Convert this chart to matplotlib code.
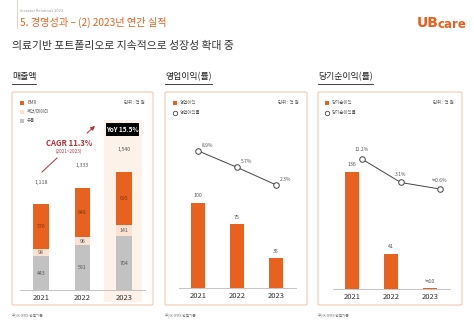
import matplotlib
matplotlib.use('Agg')
import matplotlib.pyplot as plt
from matplotlib.patches import Rectangle, FancyBboxPatch, FancyArrowPatch
from matplotlib.lines import Line2D

plt.rcParams['font.family'] = ['Noto Sans CJK KR', 'DejaVu Sans']

W, H = 474, 322

# ---- data ----
years = ['2021', '2022', '2023']
emr = [576, 648, 695]
pharma = [98, 96, 141]
dist = [443, 591, 704]
sales_totals = ['1,118', '1,333', '1,540']

op_income = [100, 75, 35]
op_margin = [8.9, 5.7, 2.3]
op_margin_labels = ['8.9%', '5.7%', '2.3%']

net_income = [136, 41, 1]
net_labels = ['136', '41', '≒10']
net_margin = [12.2, 3.1, 0.6]
net_margin_labels = ['12.2%', '3.1%', '≒0.6%']

ORANGE = '#E9611F'
PINK = '#FBE2D3'
GRAY = '#C2C2C2'
BOX = '#F3C9B0'
DARKRED = '#B0303A'
TXT = '#444444'

fig = plt.figure(figsize=(W / 100, H / 100), dpi=100)


def fx(x):
    return x / W


def fy(y):
    return 1 - y / H


def add_ax(l, t, r, b):
    ax = fig.add_axes([fx(l), fy(b), (r - l) / W, (b - t) / H])
    ax.patch.set_alpha(0)
    for s in ['top', 'right', 'left']:
        ax.spines[s].set_visible(False)
    ax.spines['bottom'].set_color('#BBBBBB')
    ax.spines['bottom'].set_linewidth(0.6)
    ax.set_yticks([])
    ax.set_xticks(range(len(years)))
    ax.set_xticklabels(years, fontsize=5.5, color='#333333')
    ax.tick_params(axis='x', length=0, pad=3)
    ax.set_xlim(-0.5, 2.5)
    return ax


def ftext(x, y, s, **kw):
    kw.setdefault('va', 'center')
    kw.setdefault('color', TXT)
    return fig.text(fx(x), fy(y), s, **kw)


# ---- header ----
fig.add_artist(Line2D([fx(17), fx(17)], [fy(0), fy(28)], color='#E8C9B8', lw=0.6))
ftext(20, 11, 'Investor Relations 2023', fontsize=2.8, color='#999999')
ftext(20, 22, '5. 경영성과 – (2) 2023년 연간 실적', fontsize=7.3, color=ORANGE)
ftext(12, 46, '의료기반 포트폴리오로 지속적으로 성장성 확대 중', fontsize=7.8, color='#333333')
ftext(417, 23, 'UB', fontsize=10, color=ORANGE, fontweight='bold', family='DejaVu Sans')
ftext(437, 24, 'care', fontsize=8.5, color=ORANGE, fontweight='bold', family='DejaVu Sans')

# ---- section headings (underlined) ----
fig.canvas.draw()
renderer = fig.canvas.get_renderer()
for x0, s in [(12, '매출액'), (165, '영업이익(률)'), (318, '당기순이익(률)')]:
    t = ftext(x0, 77, s, fontsize=6.4, color='#222222')
    bb = t.get_window_extent(renderer)
    fig.add_artist(Line2D([fx(x0), bb.x1 / W], [fy(84), fy(84)], color='#222222', lw=0.6))

# ---- panel boxes ----
for l, r in [(12, 153), (165, 307), (318, 462)]:
    fig.add_artist(FancyBboxPatch((fx(l), fy(305)), (r - l) / W, (305 - 92) / H,
                                  boxstyle='round,pad=0,rounding_size=0.004',
                                  transform=fig.transFigure, fill=False,
                                  ec=BOX, lw=0.8))
    ftext(l, 316, '주) K-IFRS 연결기준', fontsize=2.6, color='#777777')
    ftext(r - 8, 103, '단위 : 억 원', fontsize=3.2, ha='right', color='#555555')

# ---- panel 1: 매출액 ----
# highlight column for 2023
fig.add_artist(Rectangle((fx(104), fy(302)), 38 / W, (302 - 120) / H,
                         transform=fig.transFigure, color='#FDF2EA', lw=0, zorder=0))

for i, (c, s) in enumerate([(ORANGE, 'EMR'), (PINK, '제약/데이터'), (GRAY, '유통')]):
    y = 103 + i * 9
    fig.add_artist(Rectangle((fx(20), fy(y + 2)), 4 / W, 4 / H,
                             transform=fig.transFigure, color=c, lw=0))
    ftext(27, y, s, fontsize=3.2, color='#555555')

ax1 = add_ax(20, 120, 145, 290)
ax1.set_ylim(0, 2219)
bw = 0.38
x = list(range(len(years)))
ax1.bar(x, dist, bw, color=GRAY, zorder=2)
ax1.bar(x, pharma, bw, bottom=dist, color=PINK, zorder=2)
b3 = [d + p for d, p in zip(dist, pharma)]
ax1.bar(x, emr, bw, bottom=b3, color=ORANGE, zorder=2)
for i in x:
    ax1.text(i, dist[i] / 2, str(dist[i]), ha='center', va='center', fontsize=3.8, color='#555555')
    ax1.text(i, dist[i] + pharma[i] / 2, str(pharma[i]), ha='center', va='center', fontsize=3.8, color='#555555')
    ax1.text(i, b3[i] + emr[i] / 2, str(emr[i]), ha='center', va='center', fontsize=3.8, color='#7A3A14')
    top = b3[i] + emr[i]
    ax1.annotate(sales_totals[i], (i, top), xytext=(0, 16), textcoords='offset points',
                 ha='center', va='center', fontsize=3.8, color='#555555')

# YoY box
fig.add_artist(Rectangle((fx(106), fy(136)), 33 / W, 13 / H,
                         transform=fig.transFigure, color='black', lw=0, zorder=3))
ftext(122.5, 129.5, 'YoY 15.5%', fontsize=4.6, color='white', fontweight='bold',
      ha='center', zorder=4)

# CAGR
ftext(69, 143, 'CAGR 11.3%', fontsize=5.6, color=DARKRED, fontweight='bold', ha='center')
ftext(69, 151, '(2021~2023)', fontsize=3.3, color=DARKRED, ha='center')
fig.add_artist(Line2D([fx(42), fx(57)], [fy(172), fy(158)], color=DARKRED, lw=0.7))
fig.add_artist(FancyArrowPatch(
    (fx(85), fy(135)), (fx(97), fy(124)), transform=fig.transFigure,
    arrowstyle='-|>,head_length=2.5,head_width=1.2', color=DARKRED, lw=0.7))

# ---- panel 2: 영업이익 ----
fig.add_artist(Rectangle((fx(173), fy(105)), 4 / W, 4 / H,
                         transform=fig.transFigure, color=ORANGE, lw=0))
ftext(180, 103, '영업이익', fontsize=3.2, color='#555555')
fig.add_artist(Line2D([fx(175)], [fy(113)], marker='o', ms=3.2, mfc='white',
                      mec='#444444', mew=0.6, transform=fig.transFigure))
ftext(180, 113, '영업이익률', fontsize=3.2, color='#555555')

ax2 = add_ax(178.5, 140, 295.5, 288)
ax2.set_ylim(0, 174)
ax2.bar(x, op_income, bw, color=ORANGE, zorder=2)
for i in x:
    ax2.annotate(str(op_income[i]), (i, op_income[i]), xytext=(0, 5), textcoords='offset points',
                 ha='center', va='center', fontsize=3.8, color='#555555')
tw2 = ax2.twinx()
tw2.set_ylim(-17.7, 11.0)
tw2.axis('off')
tw2.plot(x, op_margin, color='#444444', lw=0.7, marker='o', ms=4, mfc='white',
         mec='#444444', mew=0.7, zorder=3)
for i in x:
    tw2.annotate(op_margin_labels[i], (i, op_margin[i]), xytext=(7, 4), textcoords='offset points',
                 ha='center', va='center', fontsize=3.5, color='#555555')

# ---- panel 3: 당기순이익 ----
fig.add_artist(Rectangle((fx(325), fy(105)), 4 / W, 4 / H,
                         transform=fig.transFigure, color=ORANGE, lw=0))
ftext(332, 103, '당기순이익', fontsize=3.2, color='#555555')
fig.add_artist(Line2D([fx(327)], [fy(113)], marker='o', ms=3.2, mfc='white',
                      mec='#444444', mew=0.6, transform=fig.transFigure))
ftext(332, 113, '당기순이익률', fontsize=3.2, color='#555555')

ax3 = add_ax(332.5, 140, 449.5, 289)
ax3.set_ylim(0, 173)
ax3.bar(x, net_income, bw, color=ORANGE, zorder=2)
for i in x:
    ax3.annotate(net_labels[i], (i, net_income[i]), xytext=(0, 5), textcoords='offset points',
                 ha='center', va='center', fontsize=3.8, color='#555555')
tw3 = ax3.twinx()
tw3.set_ylim(-38.0, 19.5)
tw3.set_xlim(-0.5, 2.5)
tw3.axis('off')
xs = [i + 0.25 for i in x]
tw3.plot(xs, net_margin, color='#444444', lw=0.7, marker='o', ms=4, mfc='white',
         mec='#444444', mew=0.7, zorder=3)
for i in x:
    off = (0, 7) if i == 0 else (0, 6)
    tw3.annotate(net_margin_labels[i], (xs[i], net_margin[i]), xytext=off, textcoords='offset points',
                 ha='center', va='center', fontsize=3.5, color='#555555')

fig.savefig('out.png', dpi=100)
